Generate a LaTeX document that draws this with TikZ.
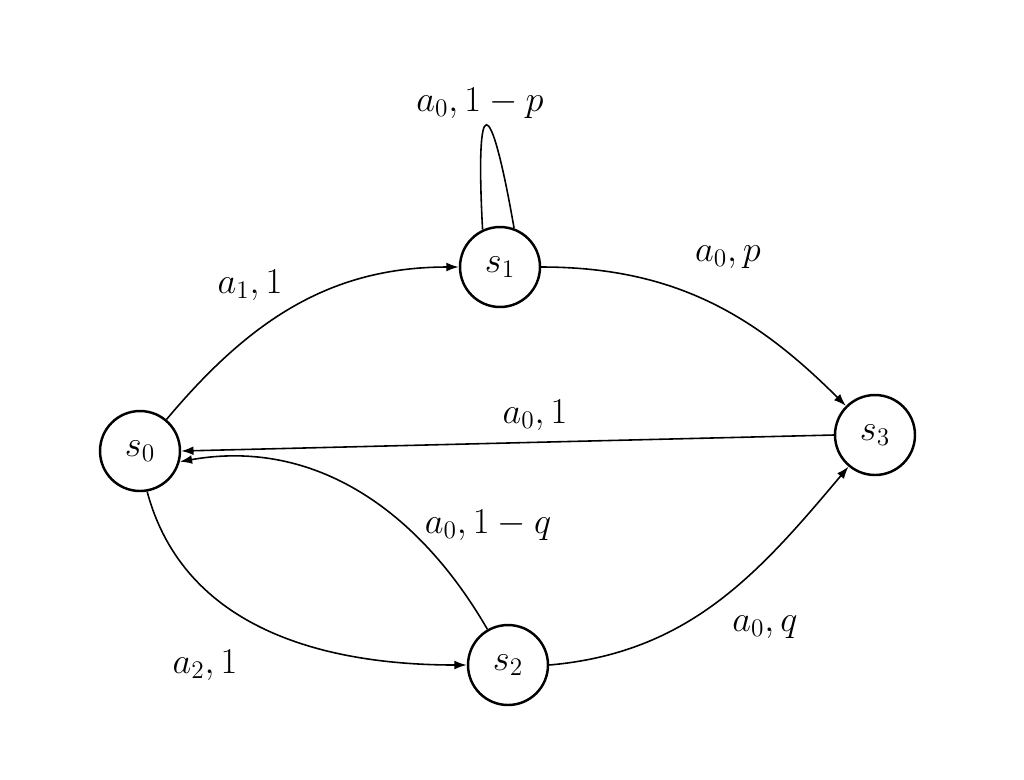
\documentclass[tikz,border=0pt]{standalone}
\usetikzlibrary{arrows.meta}
\begin{document}
\begin{tikzpicture}[x=0.02cm,y=-0.02cm,
  st/.style={circle,draw,line width=1.4pt,minimum size=1.6cm,inner sep=0pt,font=\fontsize{22}{26}\selectfont},
  lab/.style={font=\fontsize{22}{26}\selectfont},
  ed/.style={line width=0.9pt,-{Latex[length=7pt,width=5pt]}}]
\useasboundingbox (0,0) rectangle (1024,779);
\node[st] (s0) at (140,451) {$s_0$};
\node[st] (s1) at (500,267) {$s_1$};
\node[st] (s2) at (508,665) {$s_2$};
\node[st] (s3) at (875,435) {$s_3$};
\draw[ed] (s0.50) to[out=50,in=180] (s1.west);
\draw[ed] (s1.east) to[out=0,in=135] (s3.135);
\draw[ed] (s3.west) -- (s0.east);
\draw[ed] (s0.-80) to[out=-75,in=180] (s2.west);
\draw[ed] (s2.120) to[out=120,in=10] (s0.-15);
\draw[ed] (s2.east) to[out=5,in=-130] (s3.-130);
\draw[line width=0.9pt] (s1.115) .. controls (475,90) and (490,90) .. (s1.70);
\node[lab] (l1) at (480,103) {$a_0,1-p$};
\node[lab] (l2) at (250,285) {$a_1,1$};
\node[lab] (l3) at (728,257) {$a_0,p$};
\node[lab] (l4) at (535,415) {$a_0,1$};
\node[lab] (l5) at (488,525) {$a_0,1-q$};
\node[lab] (l6) at (205,665) {$a_2,1$};
\node[lab] (l7) at (765,627) {$a_0,q$};
\end{tikzpicture}
\end{document}
